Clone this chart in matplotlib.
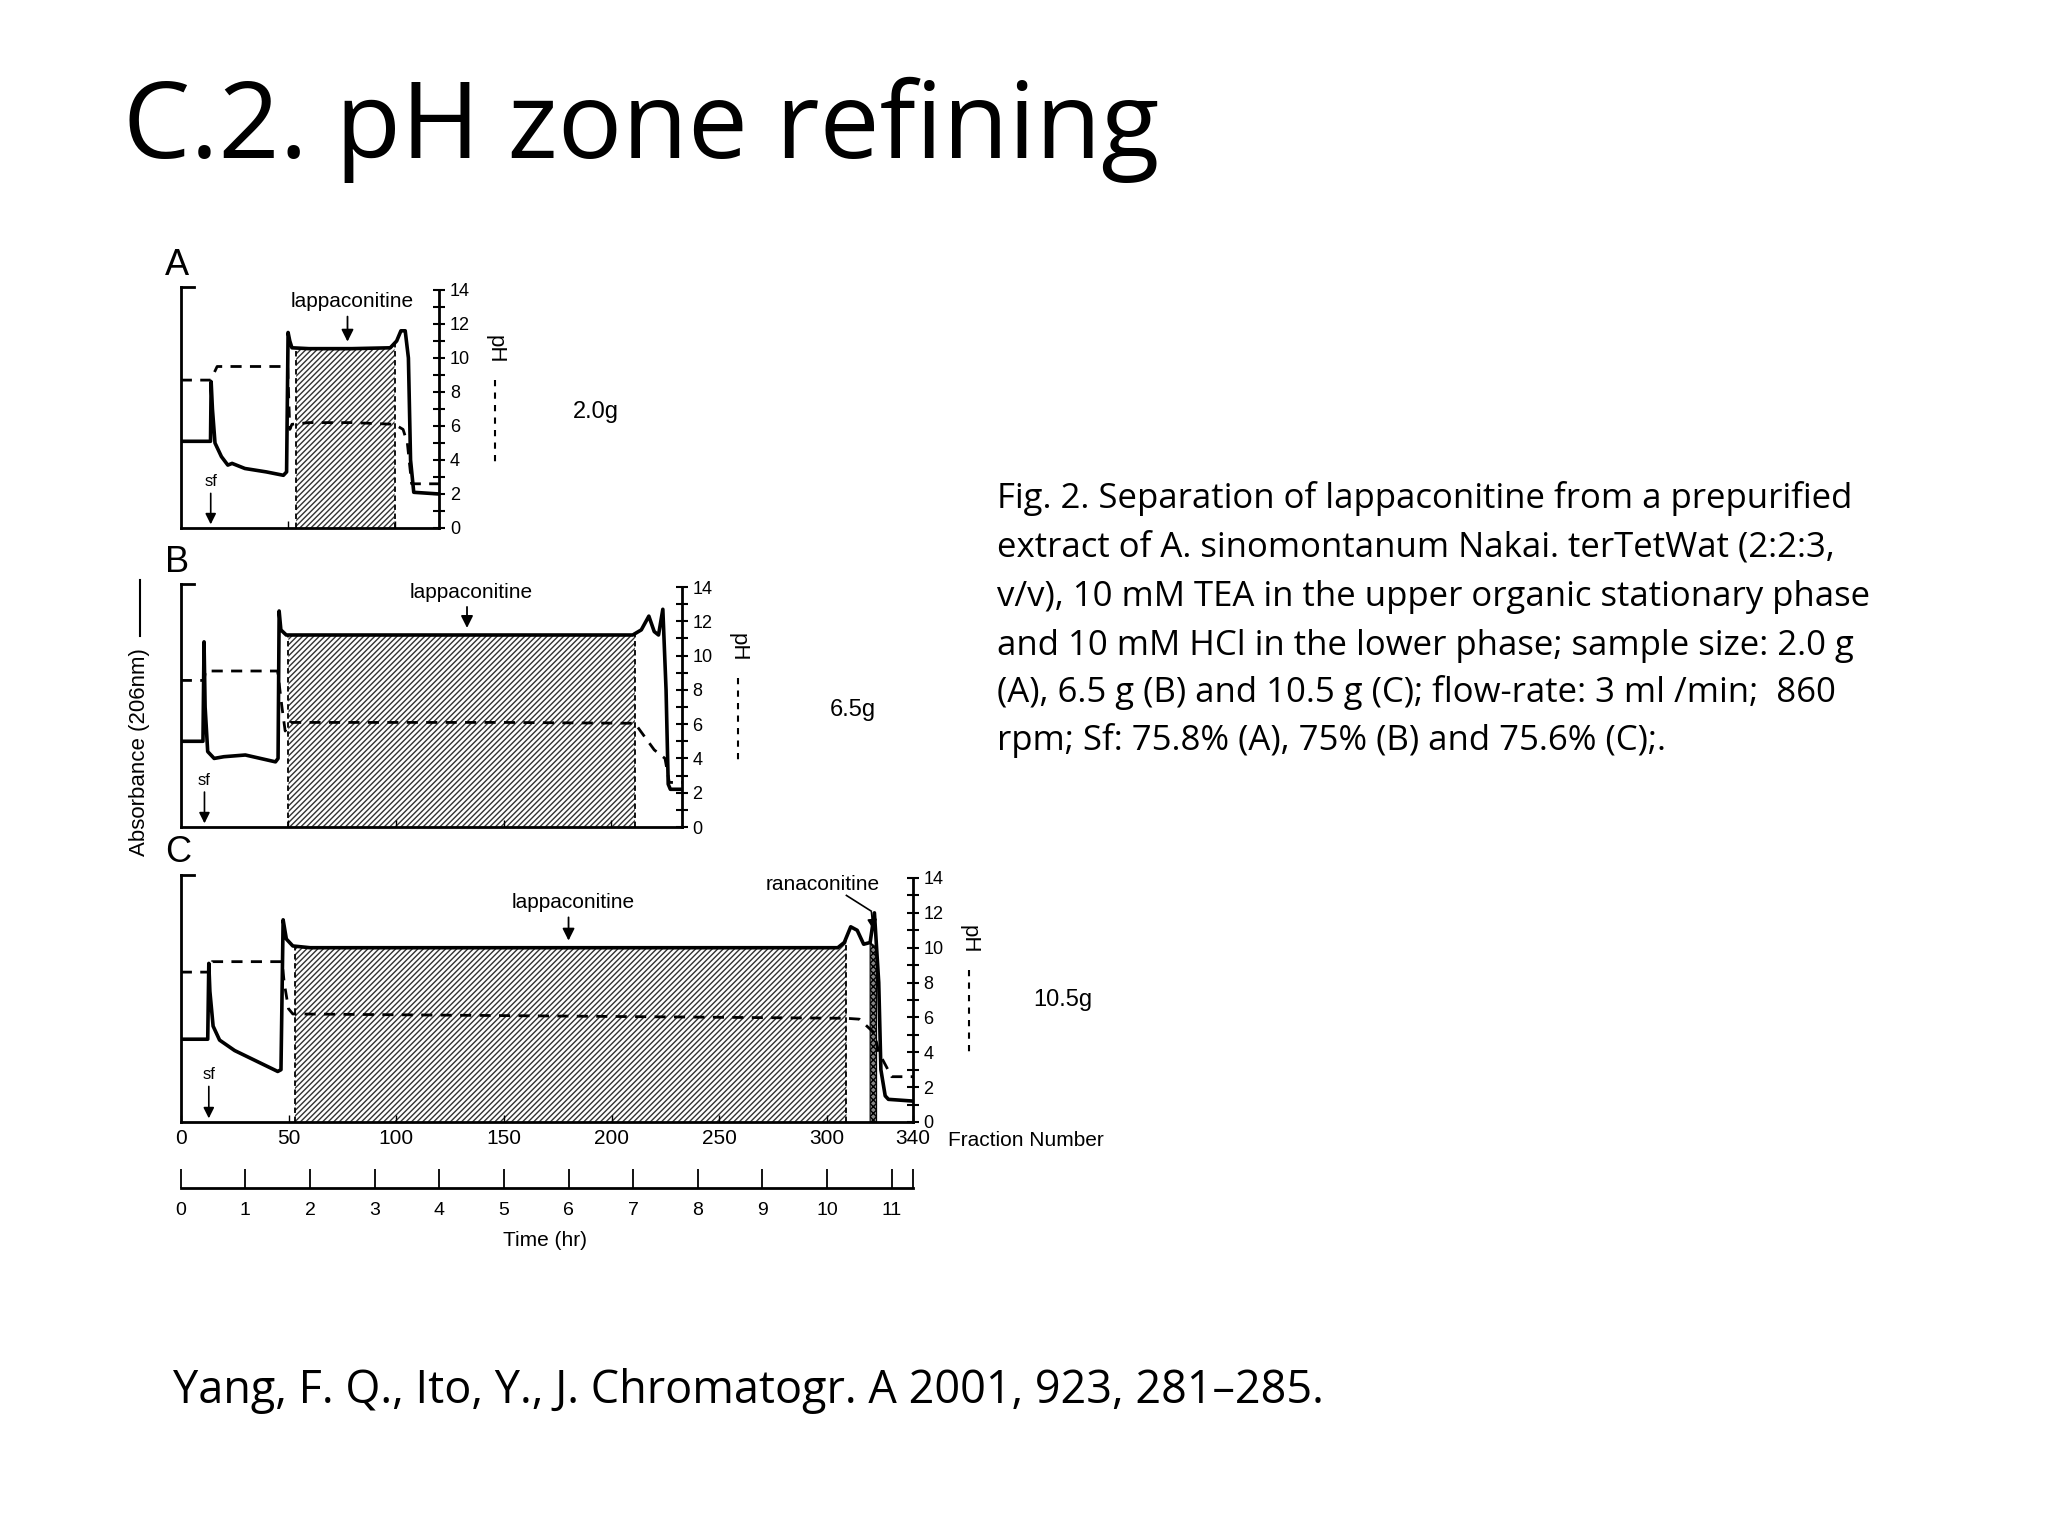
import matplotlib
matplotlib.use("Agg")
import matplotlib.pyplot as plt
import numpy as np

plt.rcParams['hatch.linewidth'] = 1.0

# ---------------- data ----------------
A_abs_x = [0,13.9,14.2,14.8,16,19,22,24,26,30,40,48,49.5,50.2,51,52,60,80,98,101,103,105,106.5,107.5,109,121]
A_abs_y = [5.1,5.1,8.6,7,5,4.2,3.7,3.8,3.7,3.5,3.3,3.1,3.3,11.5,11.0,10.6,10.55,10.55,10.6,11.0,11.6,11.6,10,4,2.1,2.0]
A_ph_x = [0,14,17,50,51,52,60,80,100,104,106,108,121]
A_ph_y = [8.7,8.7,9.5,9.5,5.8,6.1,6.2,6.2,6.1,5.8,5.0,2.6,2.6]
A_hatch = (54, 100)

B_abs_x = [0,10.3,10.8,11.3,12.5,15.5,20,30,44,45.2,45.7,46.5,49,60,150,210,214,217.5,220,222,224,225.5,226.5,227.5,233]
B_abs_y = [5.0,5.0,10.8,7,4.4,4.0,4.1,4.2,3.8,4.0,12.6,11.5,11.2,11.2,11.2,11.2,11.5,12.3,11.4,11.2,12.7,8,2.5,2.2,2.2]
B_ph_x = [0,10.8,11.5,45,47,48.5,51,150,211,220,225,227,233]
B_ph_y = [8.55,8.55,9.1,9.1,7,5.6,6.1,6.1,6.05,4.5,4.0,2.6,2.6]
B_hatch = (50, 211)

C_abs_x = [0,12.5,13,13.5,15,18,25,35,45,46.5,47.5,49,52,60,200,305,308,311,314,317,320,322,324,325,327,328.5,340]
C_abs_y = [4.75,4.75,9.1,7.5,5.5,4.7,4.1,3.5,2.9,3.0,11.6,10.5,10.1,10.0,10.0,10.0,10.3,11.2,11.0,10.2,10.3,12.0,8,3,1.5,1.3,1.2]
C_ph_x = [0,13,14.5,47,48,50,52,309,315,322,324,330,340]
C_ph_y = [8.6,8.6,9.2,9.2,8,6.5,6.2,5.95,5.9,5.1,4,2.6,2.6]
C_hatch = (53, 309)
C_rana = (320, 323)

frac_ticks = [0,50,100,150,200,250,300,340]
time_ticks = list(range(12))
ph_major = [0,2,4,6,8,10,12,14]
samples = ["2.0g", "6.5g", "10.5g"]
caption = ["Fig. 2. Separation of lappaconitine from a prepurified",
           "extract of A. sinomontanum Nakai. terTetWat (2:2:3,",
           "v/v), 10 mM TEA in the upper organic stationary phase",
           "and 10 mM HCl in the lower phase; sample size: 2.0 g",
           "(A), 6.5 g (B) and 10.5 g (C); flow-rate: 3 ml /min;  860",
           "rpm; Sf: 75.8% (A), 75% (B) and 75.6% (C);."]

# ---------------- figure ----------------
W, H = 2048, 1536
fig = plt.figure(figsize=(20.48, 15.36), dpi=100)
CF = ['Liberation Sans', 'DejaVu Sans']
SF = ['Open Sans', 'DejaVu Sans']

def fx(px): return px / W
def fy(py): return 1 - py / H

left = 180.8
panels = [
    dict(name="A", xmax=121, right=439.4, y0=528, y14=290, ax_=A_abs_x, ay=A_abs_y, px=A_ph_x, py=A_ph_y,
         hatch=A_hatch, sf=14, lap=(80, 78, 13.3), samp=(596, 412)),
    dict(name="B", xmax=233, right=682.2, y0=827, y14=587, ax_=B_abs_x, ay=B_abs_y, px=B_ph_x, py=B_ph_y,
         hatch=B_hatch, sf=11, lap=(135, 133, 13.7), samp=(853, 710)),
    dict(name="C", xmax=340, right=913.2, y0=1122, y14=878, ax_=C_abs_x, ay=C_abs_y, px=C_ph_x, py=C_ph_y,
         hatch=C_hatch, sf=13, lap=(182, 180, 12.6), samp=(1063, 1000)),
]
YMAX = 14.2
for i, p in enumerate(panels):
    unit = (p['y0'] - p['y14']) / 14
    hgt = YMAX * unit
    ax = fig.add_axes([fx(left), fy(p['y0']), (p['right'] - left) / W, hgt / H])
    ax.set_xlim(0, p['xmax'])
    ax.set_ylim(0, YMAX)
    ax.patch.set_alpha(0)
    ax.spines['top'].set_visible(False)
    ax.spines['right'].set_bounds(0, 14)
    for s in ['left', 'right', 'bottom']:
        ax.spines[s].set_linewidth(2)
    ax.plot([0, 6], [YMAX, YMAX], color='black', lw=2, clip_on=False)
    ax.yaxis.tick_right()
    ax.set_yticks(range(15))
    ax.set_yticklabels([str(v) if v in ph_major else "" for v in range(15)], fontsize=13, family=CF)
    ax.tick_params(axis='y', direction='inout', length=9, width=1.5, pad=3)
    if p['name'] == "C":
        ax.set_xticks(frac_ticks)
        ax.set_xticklabels([str(t) for t in frac_ticks], fontsize=15, family=CF)
        ax.tick_params(axis='x', direction='in', length=5, width=1, pad=5)
        ax.text(356, -1.05, "Fraction Number", fontsize=15, family=CF, ha='left', va='center')
    else:
        ax.set_xticks([t for t in frac_ticks if 0 < t < p['xmax']])
        ax.set_xticklabels([])
        ax.tick_params(axis='x', direction='in', length=5, width=1)
    # hatched region
    h0, h1 = p['hatch']
    xs = np.array(p['ax_']); ys = np.array(p['ay'])
    m = (xs >= h0) & (xs <= h1)
    hx = np.concatenate([[h0], xs[m], [h1]])
    hy = np.concatenate([[np.interp(h0, xs, ys)], ys[m], [np.interp(h1, xs, ys)]])
    ax.fill_between(hx, 0, hy, facecolor='white', edgecolor='#333333', hatch='//////', linewidth=0)
    ax.plot([h0, h0], [0, hy[0]], color='black', lw=1.3, ls=(0, (3, 2)))
    ax.plot([h1, h1], [0, hy[-1]], color='black', lw=1.3, ls=(0, (3, 2)))
    if p['name'] == "C":
        r0, r1 = C_rana
        ax.fill_between([r0, r1], 0, [np.interp(r0, xs, ys), np.interp(r1, xs, ys)],
                        facecolor='#888888', edgecolor='black', hatch='xxxxx', linewidth=0.8)
        ax.text(298, 13.6, "ranaconitine", fontsize=15, family=CF, ha='center', va='center')
        ax.plot([309, 320.5], [13.0, 12.1], color='black', lw=1.2)
        ax.annotate("", xy=(321.5, 10.9), xytext=(320.5, 12.2),
                    arrowprops=dict(arrowstyle='-|>', color='black', lw=1.2, mutation_scale=14))
    ax.plot(p['ax_'], p['ay'], color='black', lw=2.6, solid_joinstyle='round')
    ax.plot(p['px'], p['py'], color='black', lw=2.0, ls=(0, (4, 3)))
    # sf
    ax.text(p['sf'], 2.3, "sf", fontsize=12, family=CF, ha='center', va='bottom')
    ax.annotate("", xy=(p['sf'], 0.05), xytext=(p['sf'], 2.2),
                arrowprops=dict(arrowstyle='-|>', color='black', lw=1.2, mutation_scale=16))
    # lappaconitine
    tx, arx, ty = p['lap']
    tip = np.interp(arx, xs, ys)
    ax.text(tx, ty, "lappaconitine", fontsize=15, family=CF, ha='center', va='center')
    ax.annotate("", xy=(arx, tip + 0.25), xytext=(arx, ty - 0.7),
                arrowprops=dict(arrowstyle='-|>', color='black', lw=1.3, mutation_scale=18))
    # panel letter
    fig.text(fx(left - 16), fy(p['y14'] - 0.9 * unit + 8), p['name'], fontsize=26, family=CF, ha='left', va='bottom')
    # pH label
    xr = p['right'] + 56
    fig.text(fx(xr), fy(p['y14'] + 3.5 * unit), "pH", fontsize=16, family=CF, rotation=270, ha='center', va='center')
    fig.lines.append(plt.Line2D([fx(xr), fx(xr)], [fy(p['y14'] + 5.3 * unit), fy(p['y14'] + 10.2 * unit)],
                                transform=fig.transFigure, color='black', lw=1.5, ls=(0, (3, 3))))
    # sample size
    sx, sy = p['samp']
    fig.text(fx(sx), fy(sy), samples[i], fontsize=17, family=CF, ha='center', va='center')

# time axis
tax = fig.add_axes([fx(left), fy(1188), (913.2 - left) / W, 0.001])
tax.set_xlim(0, 340 / 30)
tax.set_ylim(0, 1)
for s in ['top', 'left', 'right']:
    tax.spines[s].set_visible(False)
tax.spines['bottom'].set_linewidth(2)
tax.patch.set_alpha(0)
tax.set_yticks([])
tax.set_xticks(time_ticks + [340 / 30])
tax.set_xticklabels([str(t) for t in time_ticks] + [""], fontsize=14, family=CF)
tax.tick_params(axis='x', direction='in', length=14, width=1.3, pad=10)
fig.text(fx(545), fy(1240), "Time (hr)", fontsize=15, family=CF, ha='center', va='center')

# absorbance label
fig.text(fx(140), fy(752), "Absorbance (206nm)", fontsize=16, family=CF, rotation=90, ha='center', va='center')
fig.lines.append(plt.Line2D([fx(140), fx(140)], [fy(580), fy(636)], transform=fig.transFigure, color='black', lw=1.5))

# slide texts
fig.text(fx(123), fy(158), "C.2. pH zone refining", fontsize=77, family=SF, ha='left', va='baseline')
base = [385, 422, 459, 496, 532, 568]
for line, b in zip(caption, base):
    fig.text(fx(997), fy(b * 1.3196), line, fontsize=25, family=SF, ha='left', va='baseline')
fig.text(fx(173), fy(1403), "Yang, F. Q., Ito, Y., J. Chromatogr. A 2001, 923, 281\u2013285.", fontsize=32.4, family=SF,
         ha='left', va='baseline')

fig.savefig("out.png", dpi=100, facecolor='white')
